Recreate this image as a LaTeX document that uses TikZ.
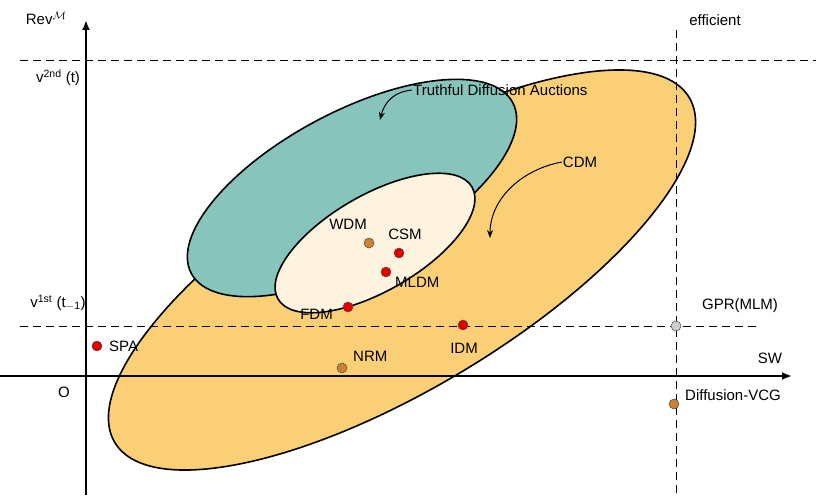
\documentclass[tikz,border=0pt]{standalone}
\usepackage{fontspec}
\setmainfont{Liberation Sans}
\usetikzlibrary{arrows.meta}
\definecolor{orangef}{HTML}{FBCF76}
\definecolor{tealf}{HTML}{87C5BC}
\definecolor{creamf}{HTML}{FEF3DE}
\begin{document}
\begin{tikzpicture}[x=1pt,y=-1pt,
  lbl/.style={font=\fontsize{15}{17}\selectfont,inner sep=1pt},
  dot/.style={circle,draw=black!70,line width=0.5pt,minimum size=10pt,inner sep=0pt},
  reddot/.style={dot,fill=red!90!black},
  browndot/.style={dot,fill=brown!80!orange},
  graydot/.style={dot,fill=black!20},
  dline/.style={dash pattern=on 8pt off 5pt,line width=0.8pt},
  ax/.style={line width=2pt,-{Latex[length=10pt,width=8pt]}},
  ann/.style={line width=1pt,-{Stealth[length=8pt]}}]
\useasboundingbox (0,0) rectangle (816,495);
% ellipses
\draw[line width=1.6pt,fill=orangef,rotate around={31:(402,270)}] (402,270) ellipse [x radius=335,y radius=118];
\draw[line width=1.6pt,fill=tealf,rotate around={28:(352,188)}] (352,188) ellipse [x radius=182,y radius=76];
\draw[line width=1.6pt,fill=creamf,rotate around={30:(375,243)}] (375,243) ellipse [x radius=112,y radius=48];
% dashed lines
\coordinate (d1a) at (20,60); \coordinate (d1b) at (816,60);
\coordinate (d2a) at (20,326); \coordinate (d2b) at (760,326);
\coordinate (d3a) at (676,30); \coordinate (d3b) at (676,495);
\draw[dline] (d1a) -- (d1b);
\draw[dline] (d2a) -- (d2b);
\draw[dline] (d3a) -- (d3b);
% axes
\coordinate (xa) at (0,376); \coordinate (xb) at (792,376);
\coordinate (ya) at (86,495); \coordinate (yb) at (86,20);
\draw[ax] (xa) -- (xb);
\draw[ax] (ya) -- (yb);
\node[lbl] (rev) at (46,18) {Rev$^{\mathcal{M}}$};
\node[lbl] (sw) at (770,358) {SW};
\node[lbl] (o) at (64,392) {O};
\node[lbl] (eff) at (715,20) {efficient};
\node[lbl] (v2) at (58,78) {v\textsuperscript{2nd} (t)};
\node[lbl] (v1) at (58,303) {v\textsuperscript{1st} (t\textsubscript{$-$1})};
% points
\node[reddot] (spa) at (97,346) {}; \node[lbl,anchor=west] at (108,346) {SPA};
\node[browndot] (nrm) at (342,368) {}; \node[lbl,anchor=west] at (352,356) {NRM};
\node[reddot] (fdm) at (348,307) {}; \node[lbl,anchor=east] at (334,314) {FDM};
\node[reddot] (idm) at (463,325) {}; \node[lbl] at (464,348) {IDM};
\node[browndot] (wdm) at (369,243) {}; \node[lbl] at (348,224) {WDM};
\node[reddot] (csm) at (399,253) {}; \node[lbl] at (405,234) {CSM};
\node[reddot] (mldm) at (386,272) {}; \node[lbl,anchor=west] at (394,282) {MLDM};
\node[graydot] (gpr) at (676,326) {}; \node[lbl] at (740,306) {GPR(MLM)};
\node[browndot] (vcg) at (674,404) {}; \node[lbl,anchor=west] at (684,395) {Diffusion-VCG};
% annotations
\node[lbl,anchor=west] (tda) at (412,90) {Truthful Diffusion Auctions};
\coordinate (tdae) at (380,120);
\draw[ann] (tda.west) .. controls (392,92) and (384,104) .. (tdae);
\node[lbl] (cdm) at (580,162) {CDM};
\coordinate (cdme) at (490,238);
\draw[ann] (cdm.west) .. controls (520,170) and (490,200) .. (cdme);
\end{tikzpicture}
\end{document}
